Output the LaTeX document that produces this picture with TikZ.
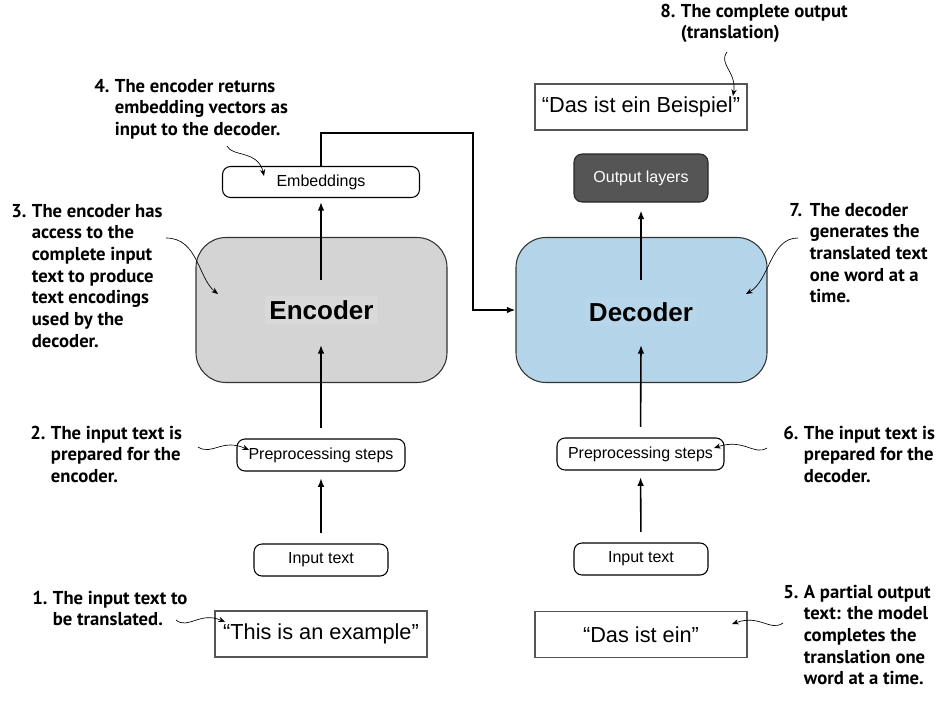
\documentclass[tikz,border=0pt]{standalone}
\usepackage{fontspec}
\setmainfont{Liberation Sans}
\newfontfamily\lblfont{PT Sans}
\usetikzlibrary{arrows.meta}
\definecolor{encgray}{HTML}{D4D4D4}
\definecolor{enclite}{HTML}{D9D9D9}
\definecolor{decblue}{HTML}{B4D4E9}
\definecolor{declite}{HTML}{B8D6EA}
\definecolor{outgray}{HTML}{555555}
\definecolor{boxgray}{HTML}{555555}
\tikzset{
  rbox/.style={draw=black, line width=0.8pt, rounded corners=6pt, inner sep=0pt, fill=white, font=\fontsize{12}{14}\selectfont},
  bigbox/.style={draw=boxgray, line width=1pt, inner sep=0pt, fill=white, minimum width=159pt, minimum height=34.5pt, font=\fontsize{16.3}{18}\selectfont},
  coder/.style={draw=black!80, line width=0.8pt, rounded corners=22.5pt, minimum width=188.25pt, minimum height=108.75pt, inner sep=0pt},
  coderlbl/.style={inner sep=3pt, font=\fontsize{19.5}{22}\selectfont\bfseries},
  mainarrow/.style={line width=1.2pt, -{Latex[length=6.5pt,width=5pt]}},
  note/.style={inner sep=0pt, anchor=base west, font=\lblfont\bfseries\fontsize{14}{16.25}\selectfont},
  notearrow/.style={line width=0.5pt, -{Stealth[length=5pt,width=4pt]}}
}
\newcommand\notetab[1]{\begin{tabular}[t]{@{}p{15.5pt}@{}l@{}}#1\end{tabular}}
\begin{document}
\begin{tikzpicture}[x=0.75pt,y=-0.75pt]
\useasboundingbox (0,0) rectangle (952,703);
% encoder side
\node[coder, fill=encgray] (enc) at (321.5,310) {};
\node[coderlbl, fill=enclite] (enctxt) at (321.5,310) {Encoder};
\node[rbox, minimum width=147.75pt, minimum height=23.25pt] (emb) at (321,182) {Embeddings};
\node[rbox, minimum width=126pt, minimum height=24pt] (prepL) at (321,455) {Preprocessing steps};
\node[rbox, minimum width=100.5pt, minimum height=24pt] (inL) at (321,560) {Input text};
\node[bigbox] (srcL) at (321,634) {“This is an example”};
% decoder side
\node[coder, fill=decblue] (dec) at (641.5,310) {};
\node[coderlbl, fill=declite] (dectxt) at (641,312) {Decoder};
\node[rbox, fill=outgray, draw=black!85, text=white, minimum width=100.5pt, minimum height=36pt] (outl) at (641,178) {Output layers};
\node[bigbox] (tgt) at (641,107) {“Das ist ein Beispiel”};
\node[rbox, minimum width=125.25pt, minimum height=24pt] (prepR) at (640.5,454) {Preprocessing steps};
\node[rbox, minimum width=100.5pt, minimum height=24pt] (inR) at (641,559) {Input text};
\node[bigbox] (srcR) at (641,634.5) {“Das ist ein”};
% inner arrow ends
\coordinate (encTop) at (321,280);
\coordinate (encBot) at (321,345);
\coordinate (decTop) at (641,280);
\coordinate (decBot) at (641,345);
\coordinate (turn) at (473,133);
% main arrows
\draw[mainarrow, shorten <=8pt, shorten >=5pt] (inL.north) -- (prepL.south);
\draw[mainarrow, shorten <=8pt] (prepL.north) -- (encBot);
\draw[mainarrow, shorten >=3pt] (encTop) -- (emb.south);
\draw[mainarrow] (emb.north) |- (turn) |- (dec.west);
\draw[mainarrow, shorten <=8pt, shorten >=5pt] (inR.north) -- (prepR.south);
\draw[mainarrow, shorten <=8pt] (prepR.north) -- (decBot);
\draw[mainarrow, shorten >=6pt] (decTop) -- (outl.south);
% notes
\node[note] (n1) at (32,604) {\notetab{1.&The input text to\\&be translated.}};
\node[note] (n2) at (30,439) {\notetab{2.&The input text is\\&prepared for the\\&encoder.}};
\node[note] (n3) at (11,217) {\notetab{3.&The encoder has\\&access to the\\&complete input\\&text to produce\\&text encodings\\&used by the\\&decoder.}};
\node[note] (n4) at (94,92) {\notetab{4.&The encoder returns\\&embedding vectors as\\&input to the decoder.}};
\node[note] (n5) at (783,598) {\notetab{5.&A partial output\\&text: the model\\&completes the\\&translation one\\&word at a time.}};
\node[note] (n6) at (783,439) {\notetab{6.&The input text is\\&prepared for the\\&decoder.}};
\node[note] (n7) at (789,216) {\notetab{7.&The decoder\\&generates the\\&translated text\\&one word at a\\&time.}};
\node[note] (n8) at (660,17) {\notetab{8.&The complete output\\&(translation)}};
% note arrows
\coordinate (s1) at (176,620); \coordinate (e1) at (225,622);
\coordinate (s2) at (198,447); \coordinate (e2) at (249,450);
\coordinate (s3) at (166,238); \coordinate (e3) at (218,294);
\coordinate (s4) at (227,146); \coordinate (e4) at (264,176);
\coordinate (s5) at (783,623); \coordinate (e5) at (732,624);
\coordinate (s6) at (767,448); \coordinate (e6) at (714,448);
\coordinate (s7) at (798,238); \coordinate (e7) at (746,294);
\coordinate (s8) at (727,52);  \coordinate (e8) at (733,96);
\draw[notearrow] (s1) .. controls (188,630) and (200,611) .. (e1);
\draw[notearrow] (s2) .. controls (212,456) and (222,438) .. (e2);
\draw[notearrow] (s3) .. controls (198,238) and (198,278) .. (e3);
\draw[notearrow] (s4) .. controls (232,157) and (258,150) .. (e4);
\draw[notearrow] (s5) .. controls (770,632) and (760,614) .. (e5);
\draw[notearrow] (s6) .. controls (754,456) and (744,438) .. (e6);
\draw[notearrow] (s7) .. controls (770,238) and (770,280) .. (e7);
\draw[notearrow] (s8) .. controls (718,64) and (737,72) .. (e8);
\end{tikzpicture}
\end{document}
